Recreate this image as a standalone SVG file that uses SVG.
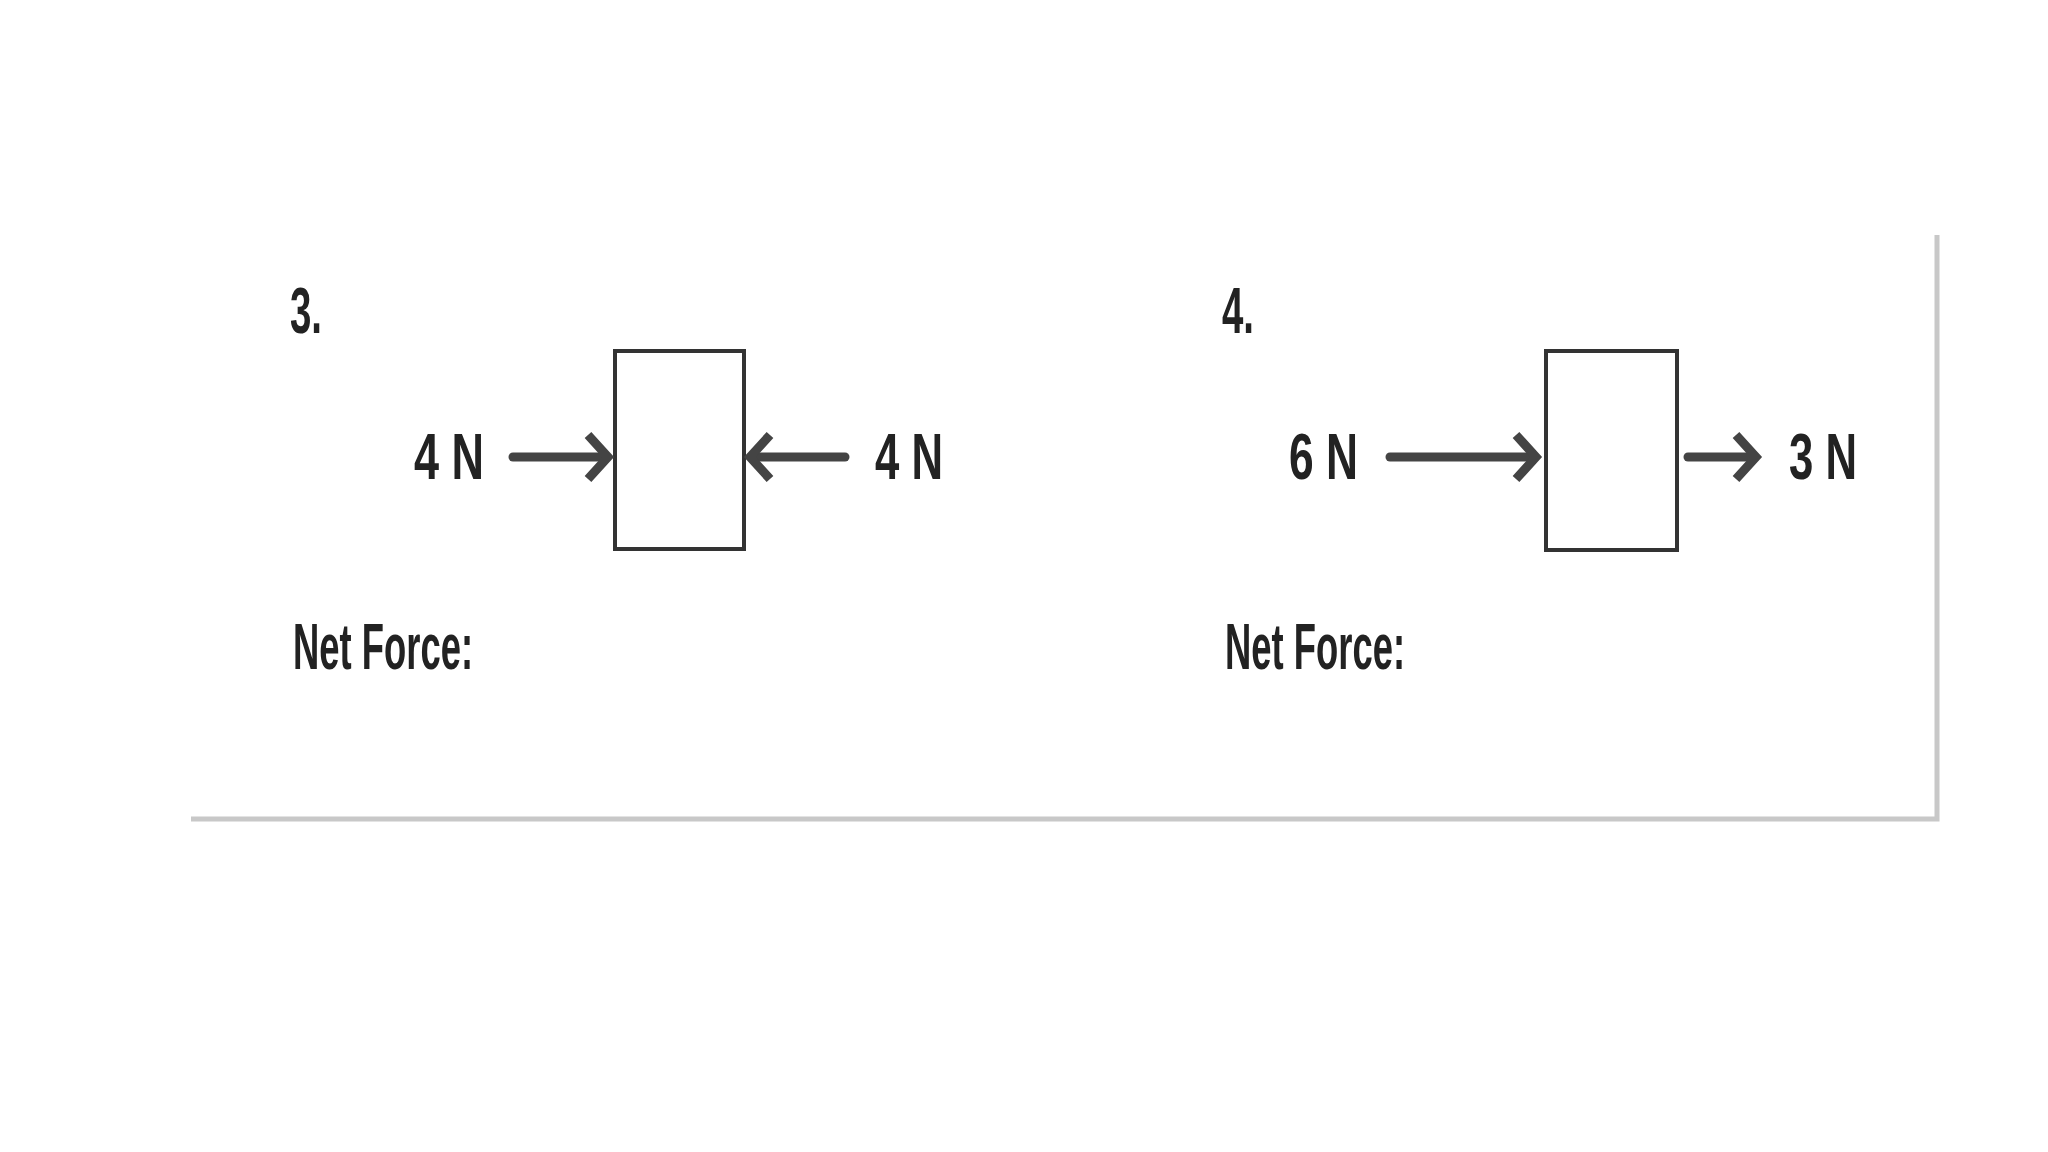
<svg xmlns="http://www.w3.org/2000/svg" width="2048" height="1152" viewBox="0 0 2048 1152">
<defs>
<style>
.t{font-family:"Liberation Sans",Arial,sans-serif;fill:#222;font-size:64px;font-weight:bold}
.box{fill:#fff;stroke:#333;stroke-width:4}
.sh{stroke:#444;stroke-width:9;stroke-linecap:round;fill:none}
.hd{stroke:#444;stroke-width:9;fill:none;stroke-linejoin:miter}
.edge{stroke:#c8c8c8;stroke-width:5;fill:none}
</style>
</defs>
<rect width="2048" height="1152" fill="#fff"/>
<g id="panel"><path class="edge" d="M1937 235 V819 H191"/></g>
<g id="p3">
<text class="t" x="290" y="333" textLength="32" lengthAdjust="spacingAndGlyphs">3.</text>
<text class="t" x="293" y="669" textLength="180" lengthAdjust="spacingAndGlyphs">Net Force:</text>
<text class="t" x="414" y="479" textLength="70" lengthAdjust="spacingAndGlyphs">4 N</text>
<text class="t" x="875" y="479" textLength="68" lengthAdjust="spacingAndGlyphs">4 N</text>
</g>
<g id="box3"><rect class="box" x="615" y="351" width="129" height="198"/></g>
<g id="p4">
<text class="t" x="1222" y="333" textLength="32" lengthAdjust="spacingAndGlyphs">4.</text>
<text class="t" x="1225" y="669" textLength="180" lengthAdjust="spacingAndGlyphs">Net Force:</text>
<text class="t" x="1289" y="479" textLength="69" lengthAdjust="spacingAndGlyphs">6 N</text>
<text class="t" x="1789" y="479" textLength="68" lengthAdjust="spacingAndGlyphs">3 N</text>
</g>
<g id="box4"><rect class="box" x="1546" y="351" width="131" height="199"/></g>
<g id="connectors">
<path class="sh" d="M513 457 H600"/><path class="hd" d="M588 435 L608 457 L588 479"/>
<path class="sh" d="M845 457 H758"/><path class="hd" d="M770 435 L750 457 L770 479"/>
<path class="sh" d="M1390 457 H1528"/><path class="hd" d="M1516 435 L1536 457 L1516 479"/>
<path class="sh" d="M1688 457 H1748"/><path class="hd" d="M1736 435 L1756 457 L1736 479"/>
</g>
</svg>
